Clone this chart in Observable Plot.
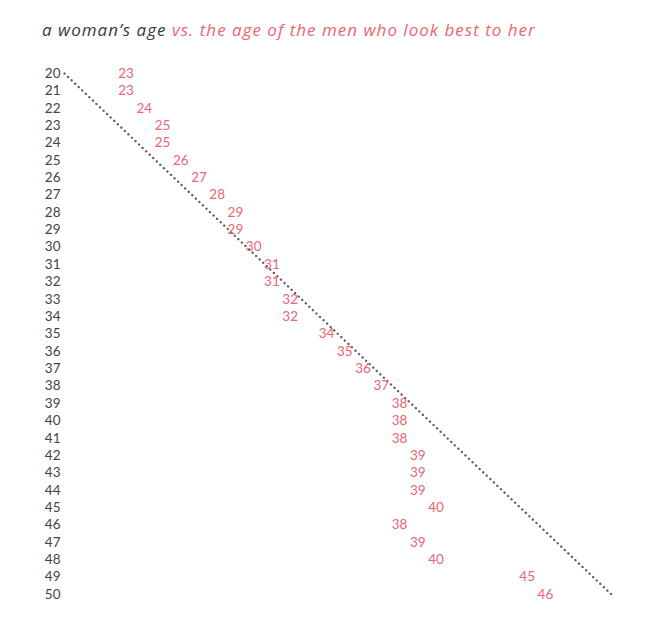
<!DOCTYPE html>
<html>
<head>
<meta charset="utf-8">
<script src="https://cdn.jsdelivr.net/npm/d3@7"></script>
<script src="https://cdn.jsdelivr.net/npm/@observablehq/plot@0.6"></script>
<style>
  html, body { margin: 0; padding: 0; background: #fff; }
  #title { position: relative; height: 50px; font-family: "Open Sans", sans-serif; font-style: italic; font-size: 17px; letter-spacing: 1px; }
  #title span.t { position: absolute; left: 42px; top: 21px; white-space: nowrap; line-height: 1; }
  .dark { color: #3a3a3a; }
  .red { color: #ec6670; }
</style>
</head>
<body>
<div id="title"><span class="t"><span class="dark">a woman’s age</span> <span class="red">vs. the age of the men who look best to her</span></span></div>
<div id="chart"></div>
<script>
const womanAge = [20,21,22,23,24,25,26,27,28,29,30,31,32,33,34,35,36,37,38,39,40,41,42,43,44,45,46,47,48,49,50];
const menAge   = [23,23,24,25,25,26,27,28,29,29,30,31,31,32,32,34,35,36,37,38,38,38,39,39,39,40,38,39,40,45,46];
const diagonal = [20, 50];

const rows = womanAge.map((w, i) => ({woman: w, men: menAge[i]}));

const chart = Plot.plot({
  width: 645,
  height: 574,
  marginTop: 23,
  marginBottom: 30,
  marginLeft: 64,
  marginRight: 34,
  style: {fontFamily: "Lato, sans-serif", fontSize: "13px", background: "#fff"},
  x: {domain: [20, 50], axis: null},
  y: {domain: [20, 50], reverse: true, axis: null},
  marks: [
    Plot.axisY({ticks: womanAge, tickFormat: d => String(d), tickSize: 0, tickPadding: 4, textAnchor: "end", fill: "#444", fontSize: 13.5, label: null}),
    Plot.line(diagonal, {x: d => d, y: d => d, stroke: "#5a5a5a", strokeWidth: 2.3, strokeDasharray: "0.1,4.8", strokeLinecap: "round"}),
    Plot.text(rows, {x: "men", y: "woman", text: d => String(d.men), textAnchor: "start", fill: "#ec6670", fontSize: 13.5, dx: -1})
  ]
});
document.getElementById("chart").appendChild(chart);
</script>
</body>
</html>
